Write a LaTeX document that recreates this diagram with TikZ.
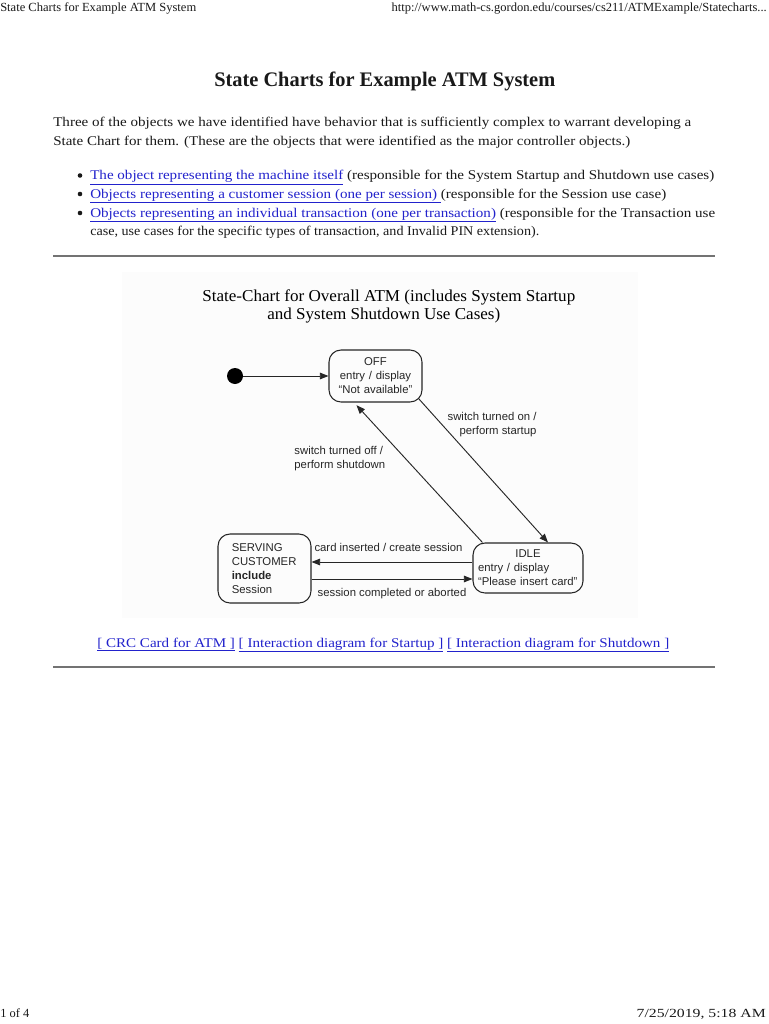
\documentclass[tikz,border=0pt]{standalone}
\usepackage{fontspec}
\setmainfont{Liberation Serif}
\newfontfamily\diagfont{Liberation Sans}
\usetikzlibrary{arrows.meta}
\definecolor{linkblue}{RGB}{34,34,204}
\definecolor{ink}{RGB}{25,25,25}
\newdimen\pxu \pxu=0.75pt
\newcommand\fitw[2]{\resizebox{#1\pxu}{\height}{#2}}
\newcommand\lnk[1]{\textcolor{linkblue}{\underline{#1}}}
\begin{document}
\begin{tikzpicture}[x=0.75pt,y=-0.75pt,
  txt/.style={inner sep=0pt, anchor=base west, text=ink},
  hdr/.style={txt, font=\fontsize{9.3}{11}\selectfont},
  body/.style={txt, font=\fontsize{10}{12}\selectfont},
  state/.style={draw=black!85, line width=0.8pt, rounded corners=9pt, inner sep=0pt,
    font=\diagfont\fontsize{8.5}{10.5}\selectfont, text=black!85},
  arr/.style={draw=black!85, line width=0.7pt, -{Triangle[length=6.5pt,width=5pt]}},
  lbl/.style={inner sep=0pt, font=\diagfont\fontsize{8.5}{10.5}\selectfont, text=black!85},
  rule/.style={draw=black!55, line width=1.5pt},
  bullet/.style={fill=ink}
]
\useasboundingbox (0,0) rectangle (768,1024);
\fill[white] (0,0) rectangle (768,1024);

% page header
\node[hdr] (hdrL) at (0,12) {\fitw{196}{State Charts for Example ATM System}};
\node[hdr, anchor=base east] (hdrR) at (767,12) {\fitw{375}{http://www.math-cs.gordon.edu/courses/cs211/ATMExample/Statecharts...}};

% title
\node[txt, font=\bfseries\fontsize{15.5}{18}\selectfont] (title) at (214,87) {\fitw{341}{State Charts for Example ATM System}};

% body
\node[body] (body1) at (53,126.5) {\fitw{638}{Three of the objects we have identified have behavior that is sufficiently complex to warrant developing a}};
\node[body] (body2) at (53,145) {\fitw{577}{State Chart for them. (These are the objects that were identified as the major controller objects.)}};

\fill[bullet] (80,175.5) circle (2.3);
\fill[bullet] (80,194) circle (2.3);
\fill[bullet] (80,213) circle (2.3);
\node[body] (b1) at (90,179.5) {\fitw{624}{\lnk{The object representing the machine itself} (responsible for the System Startup and Shutdown use cases)}};
\node[body] (b2) at (90,198) {\fitw{576}{\lnk{Objects representing a customer session (one per session)\ }(responsible for the Session use case)}};
\node[body] (b3) at (90,217) {\fitw{625}{\lnk{Objects representing an individual transaction (one per transaction)} (responsible for the Transaction use}};
\node[body] (b4) at (90,235.5) {\fitw{449}{case, use cases for the specific types of transaction, and Invalid PIN extension).}};

\draw[rule] (53,256) -- (715,256);

% diagram background
\fill[black!1] (122,272) rectangle (638,618);

\node[txt, text=black, font=\fontsize{12.5}{15}\selectfont] (dt1) at (202,301) {\fitw{373}{State-Chart for Overall ATM (includes System Startup}};
\node[txt, text=black, font=\fontsize{12.5}{15}\selectfont] (dt2) at (267,319.5) {\fitw{233}{and System Shutdown Use Cases)}};

% states
\node[circle, fill=black, inner sep=0pt, minimum size=12pt] (init) at (235,376) {};
\node[state, minimum width=69.75pt, minimum height=39pt, text width=69.75pt, align=center] (off) at (375.5,376)
  {OFF\\entry / display\\“Not available”};
\node[state, minimum width=82.5pt, minimum height=37.5pt, text width=75pt, align=left] (idle) at (528,568)
  {\makebox[75pt]{IDLE}\\entry / display\\“Please insert card”};
\node[state, minimum width=69.75pt, minimum height=51.75pt, text width=49pt, align=left] (serving) at (264.5,568.5)
  {SERVING\\CUSTOMER\\\textbf{include}\\Session};

% transitions
\draw[arr] (init) -- (off);
\draw[arr] ([shift={(-3pt,3pt)}]off.south east) -- node[lbl, pos=0.18, anchor=west, align=right, xshift=4pt] (lblon)
  {switch turned on /\\perform startup} ([xshift=15pt]idle.north);
\draw[arr] ([xshift=7.5pt]idle.north west) -- node[lbl, pos=0.61, anchor=east, align=left, xshift=-15pt] (lbloff)
  {switch turned off /\\perform shutdown} ([xshift=21pt,yshift=-2pt]off.south west);
\coordinate (ci) at ([yshift=4.5pt]idle.west);
\coordinate (cs) at ([yshift=-8.25pt]idle.west);
\draw[arr] (ci) -- node[lbl, anchor=base, yshift=8.25pt, xshift=-2.6pt] (lblcard)
  {card inserted / create session} (serving.east |- ci);
\draw[arr] (serving.east |- cs) -- node[lbl, anchor=base, yshift=-12.75pt] (lblsess)
  {session completed or aborted} (cs);

% links
\node[body] (links) at (97,647) {\fitw{572}{\lnk{[ CRC Card for ATM ]} \lnk{[ Interaction diagram for Startup ]} \lnk{[ Interaction diagram for Shutdown ]}}};

\draw[rule] (53,667) -- (715,667);

% footer
\node[hdr] (ftL) at (0,1017) {\fitw{29}{1 of 4}};
\node[hdr, anchor=base east] (ftR) at (766,1017) {\fitw{129}{7/25/2019, 5:18 AM}};
\end{tikzpicture}
\end{document}
